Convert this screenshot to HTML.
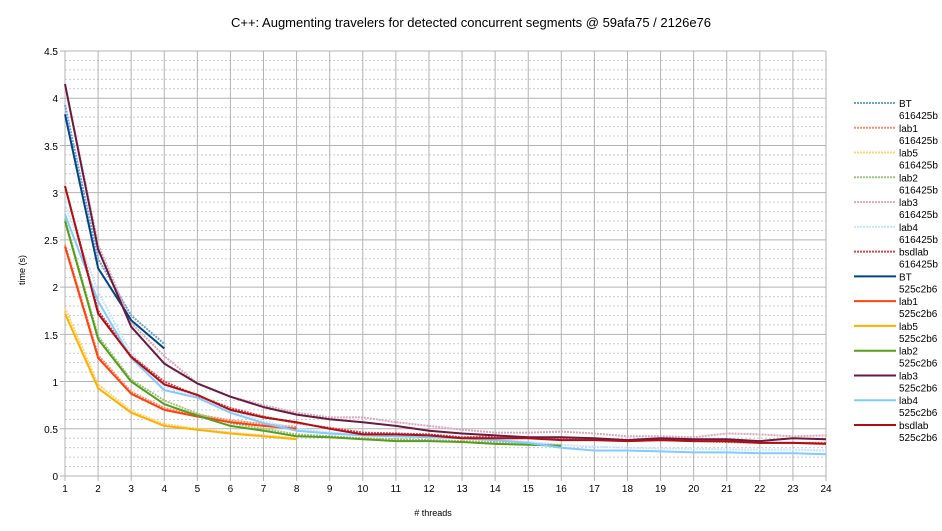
<!DOCTYPE html>
<html><head><meta charset="utf-8"><style>
html,body{margin:0;padding:0;background:#fff;}
svg{display:block;font-family:"Liberation Sans",sans-serif;}
</style></head><body>
<svg id="c" width="942" height="531" xmlns="http://www.w3.org/2000/svg">
<rect width="942" height="531" fill="#fff"/>
<text x="471" y="27" text-anchor="middle" font-size="13" fill="#000">C++: Augmenting travelers for detected concurrent segments @ 59afa75 / 2126e76</text>
<g id="grid"></g>
<g font-size="10" fill="#000" text-anchor="end">
<text x="58" y="480">0</text><text x="58" y="433">0.5</text><text x="58" y="386">1</text>
<text x="58" y="339">1.5</text><text x="58" y="291">2</text><text x="58" y="244">2.5</text>
<text x="58" y="197">3</text><text x="58" y="150">3.5</text><text x="58" y="102">4</text><text x="58" y="55">4.5</text>
</g>
<g id="xt" font-size="10" fill="#000" text-anchor="middle"></g>
<text x="433" y="516" text-anchor="middle" font-size="9">#  threads</text>
<text transform="translate(25,270) rotate(-90)" text-anchor="middle" font-size="9">time (s)</text>
<g id="series"></g>
<g id="legend" font-size="10" fill="#000"></g>
</svg>
<script>
var ns="http://www.w3.org/2000/svg";
function el(p,t,a,txt){var e=document.createElementNS(ns,t);for(var k in a)e.setAttribute(k,a[k]);if(txt!==undefined)e.textContent=txt;p.appendChild(e);return e;}
function X(n){return 65+(n-1)*761/23;}
function Y(v){return 476-v*94.44;}
var g=document.getElementById('grid');
for(var i=1;i<45;i++){if(i%5==0)continue;el(g,'line',{x1:65,x2:826,y1:Y(i/10),y2:Y(i/10),stroke:'#ccc','stroke-width':1,'stroke-dasharray':'2,2'});}
for(var i=0;i<=9;i++)el(g,'line',{x1:60,x2:826,y1:Y(i/2),y2:Y(i/2),stroke:'#b3b3b3','stroke-width':1});
for(var n=1;n<=24;n++){el(g,'line',{x1:X(n),x2:X(n),y1:Y(4.5),y2:481,stroke:'#b3b3b3','stroke-width':1});}
var xt=document.getElementById('xt');
for(var n=1;n<=24;n++)el(xt,'text',{x:X(n),y:492},String(n));
var S=[
["BT","616425b","#729fcf",1,[3.93,2.3,1.7,1.4]],
["lab1","616425b","#ff8a6a",1,[2.45,1.28,0.89,0.72,0.65,0.59,0.55,0.52]],
["lab5","616425b","#ffd370",1,[1.78,0.97,0.69,0.55,0.5,0.46,0.43,0.4]],
["lab2","616425b","#9dc47a",1,[2.72,1.48,1.02,0.8,0.66,0.56,0.5,0.44,0.42,0.4,0.39,0.38,0.37,0.36,0.35,0.33]],
["lab3","616425b","#d9a8bb",1,[4.15,2.45,1.62,1.27,0.98,0.84,0.75,0.67,0.62,0.62,0.57,0.53,0.49,0.46,0.46,0.47,0.45,0.42,0.42,0.41,0.45,0.44,0.42,0.43]],
["lab4","616425b","#c5e4ff",1,[2.88,1.95,1.3,0.95,0.85,0.7,0.58,0.5,0.46,0.44,0.43,0.42,0.41,0.39,0.36,0.33,0.31,0.3,0.29,0.29,0.28,0.28,0.28,0.27]],
["bsdlab","616425b","#d6464d",1,[3.07,1.75,1.27,1.0,0.85,0.72,0.63,0.56,0.51,0.46,0.45,0.44,0.41,0.42,0.41,0.4,0.39,0.37,0.38,0.37,0.36,0.35,0.35,0.35]],
["BT","525c2b6","#004586",0,[3.83,2.2,1.65,1.35]],
["lab1","525c2b6","#ff420e",0,[2.43,1.25,0.87,0.7,0.63,0.57,0.53,0.5]],
["lab5","525c2b6","#ffb000",0,[1.72,0.93,0.67,0.53,0.49,0.45,0.42,0.39]],
["lab2","525c2b6","#579d1c",0,[2.7,1.45,1.0,0.76,0.64,0.53,0.48,0.42,0.41,0.39,0.37,0.37,0.36,0.34,0.33,0.32]],
["lab3","525c2b6","#6b1a3f",0,[4.15,2.4,1.58,1.19,0.98,0.84,0.73,0.65,0.6,0.57,0.53,0.48,0.45,0.43,0.41,0.41,0.4,0.38,0.4,0.39,0.39,0.37,0.4,0.39]],
["lab4","525c2b6","#83caff",0,[2.77,1.85,1.25,0.91,0.83,0.67,0.56,0.48,0.45,0.43,0.42,0.41,0.4,0.38,0.35,0.3,0.27,0.27,0.26,0.25,0.25,0.24,0.24,0.23]],
["bsdlab","525c2b6","#b00e12",0,[3.07,1.72,1.26,0.97,0.86,0.7,0.62,0.57,0.5,0.44,0.44,0.43,0.4,0.4,0.4,0.38,0.38,0.37,0.38,0.37,0.37,0.35,0.35,0.34]]
];
var sg=document.getElementById('series'),lg=document.getElementById('legend');
S.forEach(function(s,i){
 var pts=s[4].map(function(v,k){return X(k+1).toFixed(1)+","+Y(v).toFixed(1);}).join(" ");
 var a={points:pts,fill:'none',stroke:s[2],'stroke-width':2,'stroke-linejoin':'round'};
 if(s[3])a['stroke-dasharray']='2,1';
 el(sg,'polyline',a);
 var ly=103+i*24.77;
 var b={x1:854,x2:896,y1:ly,y2:ly,stroke:s[2],'stroke-width':2};
 if(s[3])b['stroke-dasharray']='2,1';
 el(lg,'line',b);
 el(lg,'text',{x:899,y:ly+4},s[0]);
 el(lg,'text',{x:899,y:ly+16},s[1]);
});
</script>
</body></html>
